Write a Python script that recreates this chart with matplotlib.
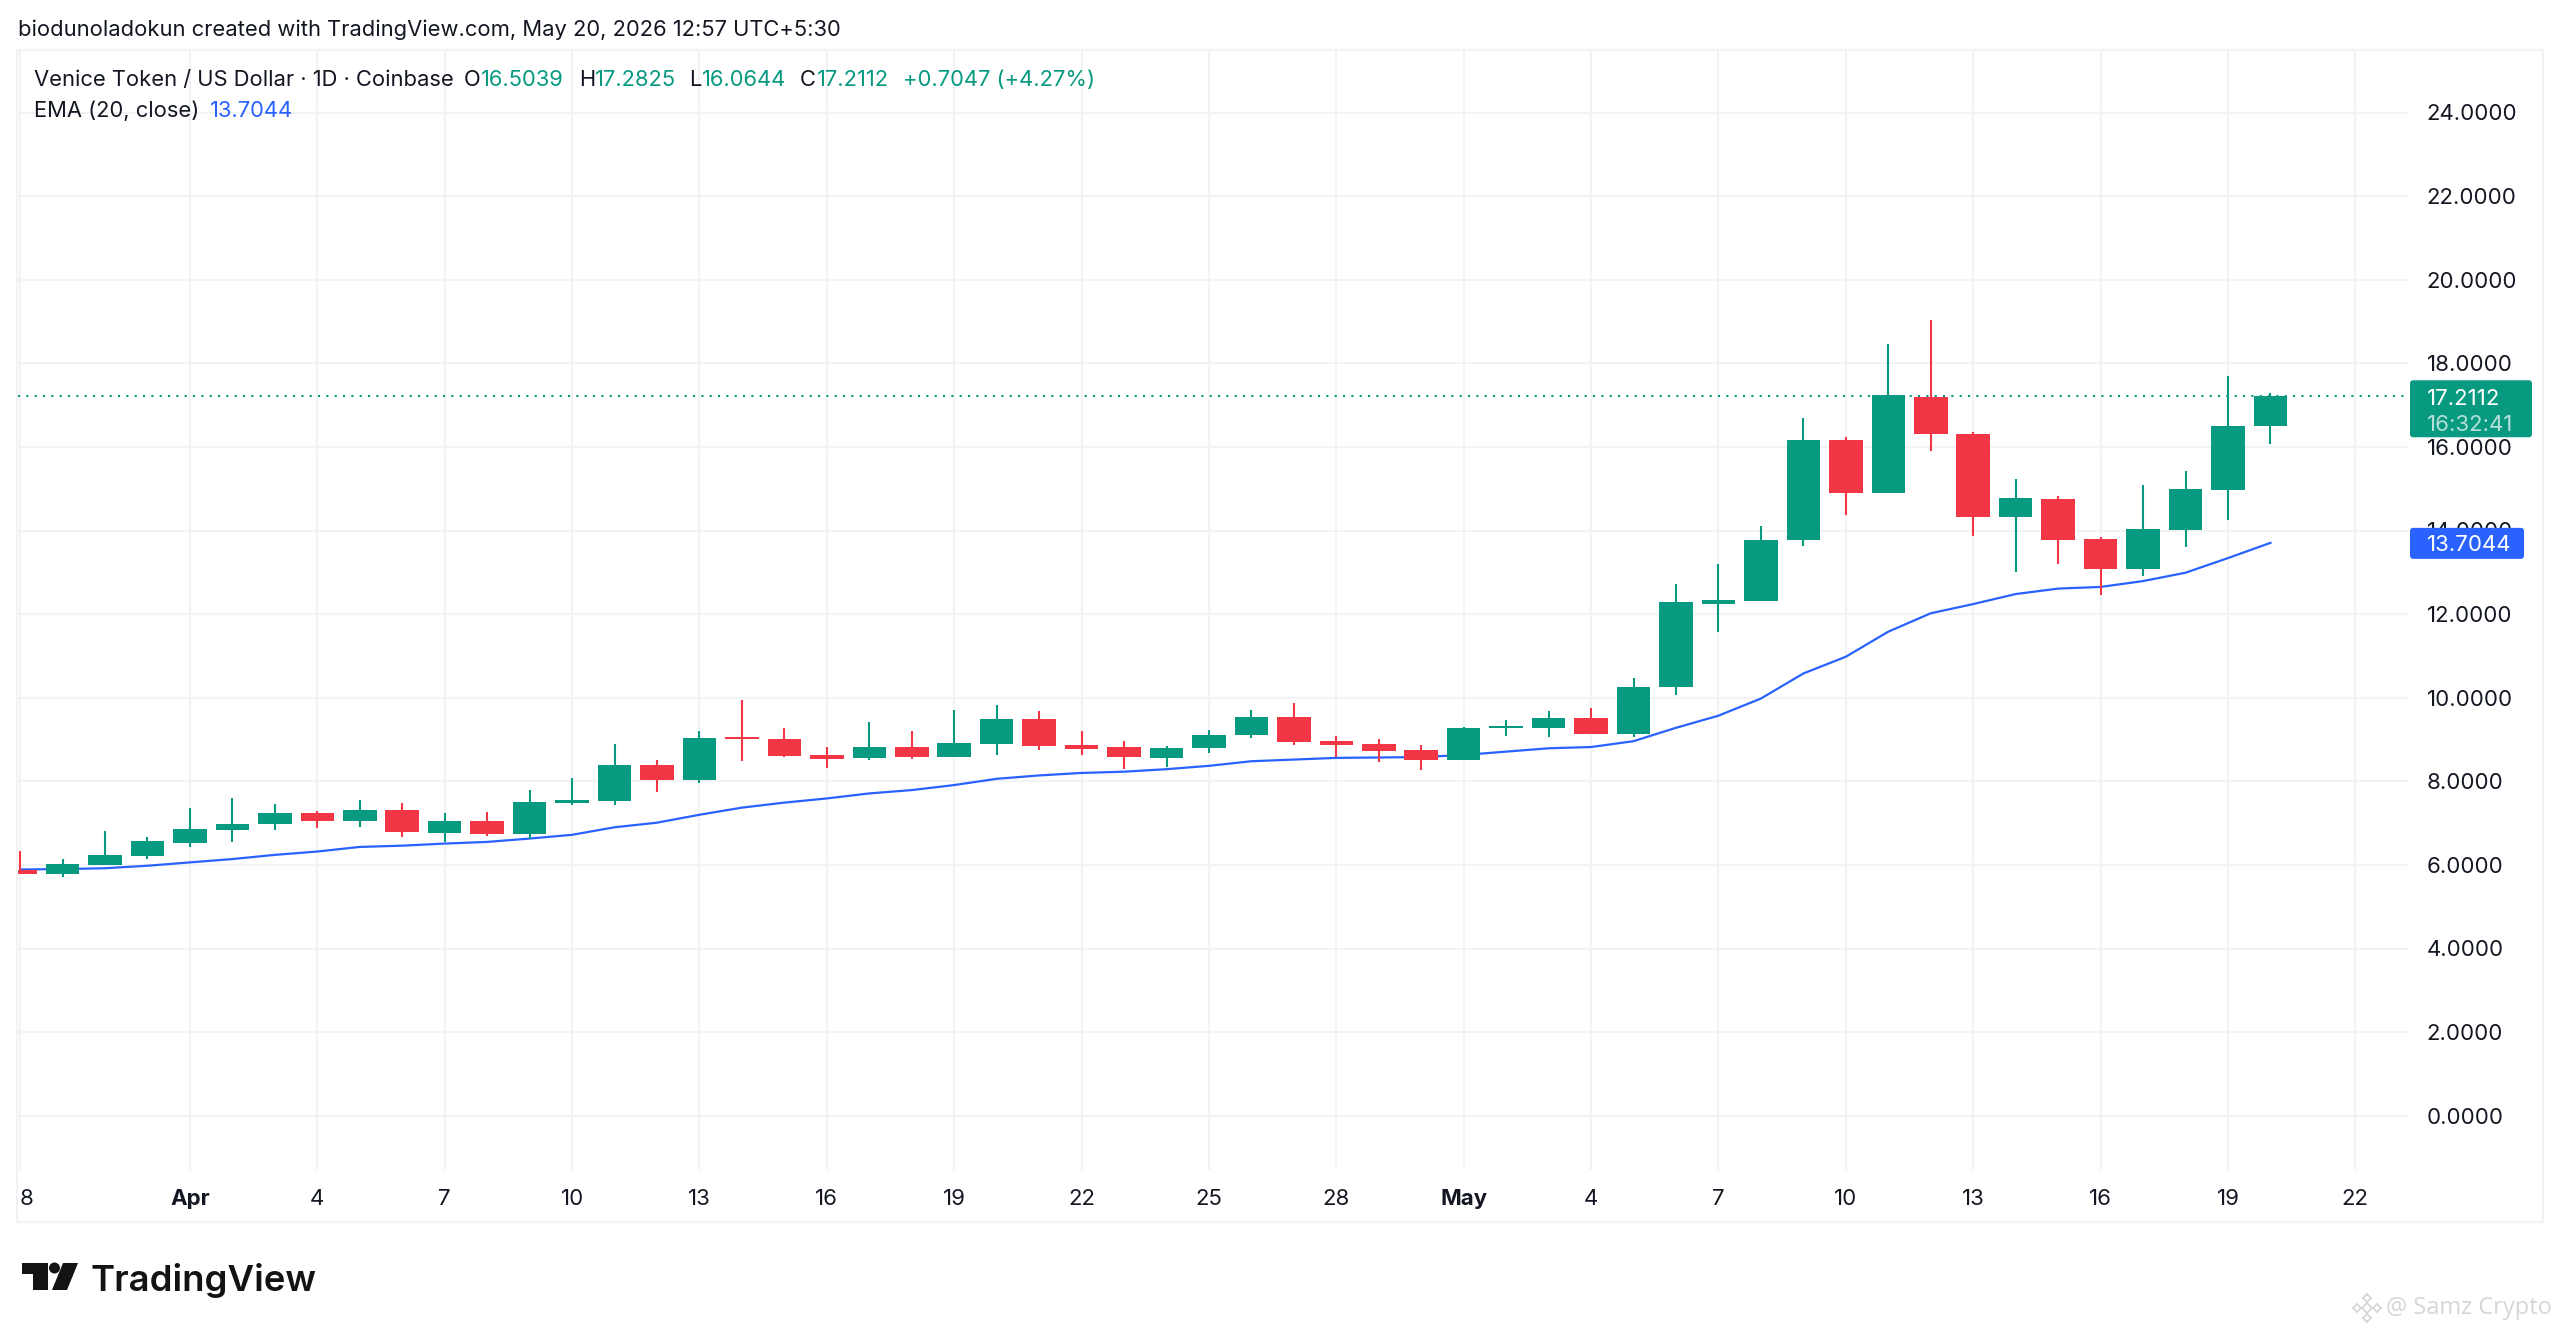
import matplotlib
matplotlib.use("Agg")
import matplotlib.pyplot as plt
from matplotlib.patches import Rectangle, Polygon, Circle, FancyBboxPatch
import numpy as np

plt.rcParams['font.family'] = ['Inter', 'DejaVu Sans']

# daily candles, Mar 28 to May 20
opens = [5.87, 5.78, 6.00, 6.22, 6.53, 6.84, 6.97, 7.25, 7.04, 7.31,
         6.77, 7.05, 6.74, 7.47, 7.54, 8.39, 8.04, 9.05, 9.01, 8.63,
         8.55, 8.83, 8.59, 8.90, 9.49, 8.87, 8.81, 8.55, 8.79, 9.10,
         9.53, 8.96, 8.89, 8.74, 8.50, 9.27, 9.27, 9.51, 9.14, 10.25,
         12.25, 12.32, 13.77, 16.16, 14.89, 17.20, 16.30, 14.33, 14.75, 13.80,
         13.08, 14.02, 14.97, 16.5039]
highs = [6.33, 6.15, 6.80, 6.66, 7.37, 7.60, 7.45, 7.28, 7.55, 7.49,
         7.23, 7.27, 7.80, 8.08, 8.90, 8.52, 9.21, 9.94, 9.27, 8.82,
         9.42, 9.21, 9.71, 9.82, 9.67, 9.21, 8.96, 8.85, 9.23, 9.71,
         9.87, 9.09, 9.01, 8.88, 9.30, 9.47, 9.68, 9.75, 10.46, 12.71,
         13.20, 14.11, 16.69, 16.23, 18.46, 19.04, 16.35, 15.24, 14.82, 13.85,
         15.09, 15.42, 17.70, 17.2825]
lows = [5.78, 5.71, 6.00, 6.13, 6.44, 6.55, 6.84, 6.89, 6.90, 6.66,
        6.54, 6.70, 6.63, 7.43, 7.43, 7.75, 7.96, 8.48, 8.57, 8.31,
        8.52, 8.54, 8.59, 8.64, 8.74, 8.64, 8.30, 8.34, 8.68, 9.03,
        8.88, 8.58, 8.45, 8.26, 8.50, 9.09, 9.05, 9.14, 9.07, 10.07,
        11.58, 12.32, 13.62, 14.36, 14.89, 15.90, 13.87, 13.00, 13.19, 12.46,
        12.92, 13.61, 14.25, 16.0644]
closes = [5.78, 6.02, 6.24, 6.56, 6.86, 6.99, 7.23, 7.04, 7.31, 6.78,
          7.05, 6.74, 7.51, 7.56, 8.39, 8.04, 9.03, 9.01, 8.61, 8.53,
          8.83, 8.59, 8.91, 9.49, 8.85, 8.78, 8.57, 8.79, 9.11, 9.53,
          8.94, 8.88, 8.72, 8.50, 9.27, 9.32, 9.51, 9.14, 10.25, 12.28,
          12.34, 13.77, 16.16, 14.89, 17.23, 16.30, 14.33, 14.77, 13.78, 13.08,
          14.04, 15.00, 16.50, 17.2112]
ema = [5.89, 5.90, 5.92, 5.98, 6.06, 6.14, 6.24, 6.32, 6.43, 6.46,
       6.51, 6.55, 6.63, 6.72, 6.90, 7.01, 7.20, 7.37, 7.49, 7.59,
       7.71, 7.79, 7.91, 8.06, 8.14, 8.20, 8.23, 8.29, 8.37, 8.48,
       8.52, 8.56, 8.57, 8.58, 8.63, 8.71, 8.79, 8.82, 8.96, 9.28,
       9.57, 9.98, 10.58, 10.98, 11.58, 12.02, 12.24, 12.48, 12.61, 12.65,
       12.79, 12.99, 13.34, 13.7044]

x_tick_days = [0, 4, 7, 10, 13, 16, 19, 22, 25, 28, 31, 34, 37, 40, 43, 46, 49, 52, 55]
x_tick_labels = ['8', 'Apr', '4', '7', '10', '13', '16', '19', '22', '25', '28',
                 'May', '4', '7', '10', '13', '16', '19', '22']
y_ticks = list(range(0, 25, 2))

GREEN = '#089981'
RED = '#F23645'
BLUE = '#2962FF'
GRID = '#F2F3F5'
TEXT = '#131722'

W, H = 2560, 1333
fig = plt.figure(figsize=(W / 100, H / 100), dpi=100, facecolor='white')

# pane in pixels: left 18, right 2408, top 50, bottom 1170
ax = fig.add_axes([18 / W, 1 - 1170 / H, (2408 - 18) / W, (1170 - 50) / H])
ax.set_xlim(-0.05, 56.24)
ax.set_ylim((1115.7 - 1170) / 41.8, (1115.7 - 50) / 41.8)

days = np.arange(len(opens))
opens_a = np.array(opens)
closes_a = np.array(closes)
colors = [GREEN if c >= o else RED for o, c in zip(opens, closes)]

# the EMA runs behind the candles
ax.plot(days, ema, color=BLUE, linewidth=1.6, zorder=2.5, solid_joinstyle='round')
ax.vlines(days, lows, highs, colors=colors, linewidth=1.5, zorder=3)
ax.bar(days, np.abs(closes_a - opens_a), bottom=np.minimum(opens_a, closes_a),
       width=0.79, color=colors, linewidth=0, zorder=4)
ax.axhline(closes[-1], color=GREEN, linewidth=1.5, linestyle=(0, (1, 3)), zorder=2)

for s in ax.spines.values():
    s.set_visible(False)
ax.set_axisbelow(True)
ax.grid(True, color=GRID, linewidth=1.5)
ax.yaxis.tick_right()
ax.set_yticks(y_ticks)
ax.set_yticklabels(['%.4f' % v for v in y_ticks], fontsize=16, color=TEXT)
ax.set_xticks(x_tick_days)
ax.set_xticklabels(x_tick_labels, fontsize=16, color=TEXT)
ax.tick_params(axis='both', length=0)
ax.tick_params(axis='y', pad=13.5)
ax.tick_params(axis='x', pad=13.5)
xlabels = ax.get_xticklabels()
xlabels[0].set_ha('left')
xlabels[1].set_fontweight('bold')
xlabels[11].set_fontweight('bold')

# overlay in pixel coordinates for frame, header, price tags and logos
ov = fig.add_axes([0, 0, 1, 1], facecolor='none', zorder=10)
ov.set_xlim(0, W)
ov.set_ylim(H, 0)
ov.axis('off')

ov.add_patch(Rectangle((17, 50), 2543 - 17, 1222 - 50, fill=False, edgecolor=GRID, linewidth=1.5))

ov.text(18, 30, 'biodunoladokun created with TradingView.com, May 20, 2026 12:57 UTC+5:30',
        fontsize=15.8, color=TEXT, va='center')

legend_y = 80
ov.text(34, legend_y, 'Venice Token / US Dollar · 1D · Coinbase', fontsize=15.8, color=TEXT, va='center')
for lx, ltxt, vx, vtxt in [(464, 'O', 480.5, '16.5039'), (579, 'H', 595, '17.2825'),
                           (689, 'L', 702, '16.0644'), (799.5, 'C', 817, '17.2112')]:
    ov.text(lx, legend_y, ltxt, fontsize=15.8, color=TEXT, va='center')
    ov.text(vx, legend_y, vtxt, fontsize=15.8, color=GREEN, va='center')
ov.text(903, legend_y, '+0.7047 (+4.27%)', fontsize=15.8, color=GREEN, va='center')
ov.text(34, 111, 'EMA (20, close)', fontsize=15.8, color=TEXT, va='center')
ov.text(210, 111, '13.7044', fontsize=15.8, color=BLUE, va='center')


def price_to_px(v):
    return H - ax.transData.transform((0, v))[1]


def price_tag(x0, x1, y0, y1, color):
    ov.add_patch(FancyBboxPatch((x0 + 3, y0 + 3), x1 - x0 - 6, y1 - y0 - 6,
                                boxstyle='round,pad=3,rounding_size=3', facecolor=color, edgecolor='none'))


close_y = price_to_px(closes[-1])
price_tag(2410, 2532, close_y - 16, close_y + 41, GREEN)
ov.text(2427, close_y + 3, '17.2112', fontsize=16, color='white', va='center')
ov.text(2427, close_y + 29, '16:32:41', fontsize=16, color='white', alpha=0.7, va='center')

ema_y = price_to_px(ema[-1])
price_tag(2410, 2524, ema_y - 15, ema_y + 16, BLUE)
ov.text(2427, ema_y + 2, '13.7044', fontsize=16, color='white', va='center')

# TradingView logo
LOGO = '#131313'
ov.add_patch(Polygon([(22, 1263), (48, 1263), (48, 1290), (33, 1290), (33, 1274), (22, 1274)], facecolor=LOGO, edgecolor='none'))
ov.add_patch(Circle((54.5, 1268), 5.5, facecolor=LOGO, edgecolor='none'))
ov.add_patch(Polygon([(63, 1263), (78, 1263), (67, 1290), (52, 1290)], facecolor=LOGO, edgecolor='none'))
ov.text(90, 1291, 'TradingView', fontsize=26.3, fontweight='semibold', color=LOGO, va='baseline')

# watermark
MARK = '#D6D6D6'
for cx, cy, r in [(2367, 1308, 5), (2367, 1298, 4), (2367, 1318, 4), (2357, 1308, 4), (2377, 1308, 4)]:
    ov.add_patch(Polygon([(cx - r, cy), (cx, cy - r), (cx + r, cy), (cx, cy + r)], fill=False, edgecolor=MARK, linewidth=1.3))
ov.text(2386, 1308, '@ Samz Crypto', fontsize=17, color=MARK, va='center', family=['Open Sans', 'DejaVu Sans'])

fig.savefig('out.png', dpi=100, facecolor='white')
